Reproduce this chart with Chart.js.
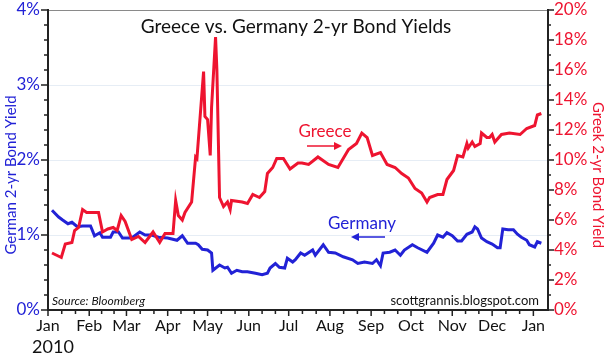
<!DOCTYPE html>
<html>
<head>
<meta charset="utf-8">
<script src="https://cdn.jsdelivr.net/npm/chart.js@4"></script>
<style>
  html, body { margin: 0; padding: 0; background: #fff; }
  #wrap { width: 608px; height: 362px; }
</style>
</head>
<body>
<div id="wrap"><canvas id="bondChart" width="608" height="362"></canvas></div>
<script>
// days since 1 Jan 2010
var monthStarts = [0, 31, 59, 90, 120, 151, 181, 212, 243, 273, 304, 334, 365];
var monthLabels = ['Jan', 'Feb', 'Mar', 'Apr', 'May', 'Jun', 'Jul', 'Aug', 'Sep', 'Oct', 'Nov', 'Dec', 'Jan'];
var leftTicks = [0, 1, 2, 3, 4];
var rightTicks = [0, 2, 4, 6, 8, 10, 12, 14, 16, 18, 20];

var greeceDays = [3, 10, 13, 18, 20, 23, 26, 29, 35, 38, 41, 45, 49, 52, 55, 58, 63, 68, 73, 79, 84, 88, 94, 96, 98, 101, 103, 108, 111, 112, 117, 118, 120, 122, 123, 126, 127, 129, 132, 135, 137, 138, 146, 150, 154, 159, 163, 165, 169, 172, 177, 182, 188, 191, 196, 203, 211, 218, 226, 232, 236, 240, 244, 250, 255, 261, 266, 271, 276, 281, 285, 287, 293, 297, 300, 305, 308, 312, 315, 316, 319, 321, 325, 326, 330, 332, 334, 336, 341, 347, 355, 360, 366, 368, 371];
var greeceYield = [3.8, 3.5, 4.4, 4.5, 5.3, 5.5, 6.7, 6.5, 6.5, 6.5, 5.2, 5.4, 5.5, 5.3, 6.3, 5.9, 4.7, 4.9, 4.5, 5.2, 4.5, 5.1, 5.1, 7.3, 6.3, 6.0, 6.5, 7.2, 10.2, 10.1, 15.9, 12.9, 12.7, 10.3, 13.5, 18.2, 16.0, 7.5, 6.9, 7.2, 6.7, 7.3, 7.2, 7.1, 7.7, 7.5, 7.9, 9.1, 9.5, 10.1, 10.1, 9.4, 9.8, 9.8, 9.7, 10.2, 9.7, 9.5, 10.7, 11.1, 11.8, 11.5, 10.3, 10.5, 9.7, 9.5, 9.1, 8.8, 8.1, 7.8, 7.2, 7.5, 7.7, 7.7, 8.7, 9.3, 10.3, 10.2, 11.1, 10.8, 11.2, 10.9, 11.1, 11.8, 11.5, 11.5, 11.7, 11.2, 11.7, 11.8, 11.7, 12.1, 12.3, 13.0, 13.1];

var germanyDays = [3, 8, 11, 15, 18, 22, 26, 32, 35, 39, 41, 47, 49, 53, 56, 63, 69, 73, 78, 83, 90, 97, 101, 105, 111, 113, 116, 120, 123, 124, 129, 133, 135, 138, 142, 146, 150, 156, 161, 165, 167, 171, 174, 178, 180, 184, 186, 190, 193, 199, 201, 207, 211, 216, 222, 229, 233, 238, 244, 247, 250, 252, 257, 261, 265, 268, 274, 278, 285, 290, 293, 297, 300, 304, 308, 311, 315, 319, 321, 323, 326, 330, 334, 338, 340, 342, 346, 350, 353, 356, 360, 362, 366, 368, 371];
var germanyYield = [1.33, 1.24, 1.2, 1.15, 1.17, 1.11, 1.12, 1.12, 0.99, 1.03, 0.97, 0.97, 1.04, 1.04, 0.96, 0.96, 1.04, 1.0, 1.0, 0.97, 0.96, 0.93, 0.99, 0.89, 0.89, 0.87, 0.81, 0.8, 0.76, 0.53, 0.6, 0.56, 0.57, 0.49, 0.53, 0.51, 0.51, 0.49, 0.47, 0.49, 0.56, 0.62, 0.57, 0.56, 0.69, 0.64, 0.67, 0.76, 0.73, 0.8, 0.73, 0.87, 0.77, 0.76, 0.71, 0.67, 0.62, 0.64, 0.62, 0.67, 0.59, 0.76, 0.77, 0.8, 0.73, 0.8, 0.87, 0.83, 0.77, 0.89, 1.0, 0.97, 1.03, 0.99, 0.92, 0.92, 1.01, 1.04, 1.11, 1.08, 0.96, 0.91, 0.88, 0.83, 0.83, 1.08, 1.07, 1.07, 1.01, 0.97, 0.93, 0.87, 0.84, 0.91, 0.89];

var RED = '#ee1430';
var BLUE = '#2222d6';
var FONT = 'Lato';

function toPoints(days, vals) {
    return days.map(function (d, i) { return { x: d, y: vals[i] }; });
}

// axis ticks, labels in the plot, axis titles
var decorations = {
    id: 'decorations',
    afterDraw: function (chart) {
        var c = chart.ctx;
        var a = chart.chartArea;
        var xs = chart.scales.x, yl = chart.scales.yL, yr = chart.scales.yR;
        c.save();
        c.strokeStyle = '#222';
        c.lineWidth = 1.5;
        c.beginPath();
        // x ticks: month + thirds
        monthStarts.forEach(function (d, i) {
            var px = xs.getPixelForValue(d);
            c.moveTo(px, a.bottom); c.lineTo(px, a.bottom + 6);
            if (i < monthStarts.length - 1) {
                var len = monthStarts[i + 1] - d;
                [1, 2].forEach(function (k) {
                    var mx = xs.getPixelForValue(d + len * k / 3);
                    c.moveTo(mx, a.bottom); c.lineTo(mx, a.bottom + 4);
                });
            }
        });
        // left ticks every 0.2%
        for (var v = 0; v <= 4.001; v += 0.2) {
            var py = yl.getPixelForValue(v);
            var major = Math.abs(v - Math.round(v)) < 0.01;
            c.moveTo(a.left, py); c.lineTo(a.left - (major ? 7 : 4), py);
        }
        // right ticks every 1%
        for (var w = 0; w <= 20; w += 1) {
            var ry = yr.getPixelForValue(w);
            c.moveTo(a.right, ry); c.lineTo(a.right + (w % 2 === 0 ? 6 : 3), ry);
        }
        c.stroke();

        // title
        c.fillStyle = '#111';
        c.font = '19px ' + FONT;
        c.textAlign = 'center';
        c.textBaseline = 'middle';
        c.fillText('Greece vs. Germany 2-yr Bond Yields', 296, 27);

        // series labels with arrows
        c.font = '17px ' + FONT;
        c.fillStyle = RED;
        c.fillText('Greece', 325, 132);
        c.fillStyle = BLUE;
        c.fillText('Germany', 362, 224);

        function arrow(x1, x2, y, col) {
            var dir = x2 > x1 ? 1 : -1;
            c.strokeStyle = col; c.fillStyle = col; c.lineWidth = 1.5;
            c.beginPath(); c.moveTo(x1, y); c.lineTo(x2 - dir * 6, y); c.stroke();
            c.beginPath(); c.moveTo(x2, y); c.lineTo(x2 - dir * 8, y - 4); c.lineTo(x2 - dir * 8, y + 4); c.closePath(); c.fill();
        }
        arrow(307, 342, 146, RED);
        arrow(385, 351, 237, BLUE);

        // source / credit
        c.fillStyle = '#111';
        c.textAlign = 'left';
        c.font = 'italic 12px ' + FONT;
        c.fillText('Source: Bloomberg', 52, 301);
        c.textAlign = 'right';
        c.font = '13px ' + FONT;
        c.fillText('scottgrannis.blogspot.com', 539, 301);

        // year under first Jan
        c.textAlign = 'center';
        c.font = '18px ' + FONT;
        c.fillText('2010', 53, 347);

        // axis titles
        c.font = '15px ' + FONT;
        c.save();
        c.translate(11, 175);
        c.rotate(-Math.PI / 2);
        c.fillStyle = BLUE;
        c.fillText('German 2-yr Bond Yield', 0, 0);
        c.restore();
        c.save();
        c.translate(598, 175);
        c.rotate(Math.PI / 2);
        c.fillStyle = RED;
        c.fillText('Greek 2-yr Bond Yield', 0, 0);
        c.restore();
        c.restore();
    }
};

function noVertPadding(s) {
    s.paddingTop = 0;
    s.paddingBottom = 0;
}

new Chart(document.getElementById('bondChart'), {
    type: 'line',
    data: {
        datasets: [{
            label: 'Greece',
            data: toPoints(greeceDays, greeceYield),
            yAxisID: 'yR',
            borderColor: RED,
            borderWidth: 3,
            pointRadius: 0,
            tension: 0
        }, {
            label: 'Germany',
            data: toPoints(germanyDays, germanyYield),
            yAxisID: 'yL',
            borderColor: BLUE,
            borderWidth: 3,
            pointRadius: 0,
            tension: 0
        }]
    },
    options: {
        responsive: false,
        animation: false,
        layout: { padding: { top: 10, left: 0, right: 0, bottom: 0 } },
        plugins: { legend: { display: false }, tooltip: { enabled: false } },
        scales: {
            x: {
                type: 'linear',
                min: 0,
                max: 376,
                afterBuildTicks: function (s) {
                    s.ticks = monthStarts.map(function (d) { return { value: d }; });
                },
                afterFit: function (s) { s.height = 52; },
                ticks: {
                    autoSkip: false,
                    maxRotation: 0,
                    padding: 8,
                    color: '#111',
                    font: { family: FONT, size: 16, lineHeight: 1 },
                    callback: function (v, i) { return monthLabels[i]; }
                },
                grid: { display: false, drawTicks: false },
                border: { display: true, color: '#222', width: 2 }
            },
            yL: {
                position: 'left',
                min: 0,
                max: 4,
                afterBuildTicks: function (s) {
                    s.ticks = leftTicks.map(function (v) { return { value: v }; });
                },
                afterFit: function (s) { s.width = 48; noVertPadding(s); },
                ticks: {
                    padding: 8,
                    color: BLUE,
                    font: { family: FONT, size: 17, lineHeight: 1 },
                    callback: function (v) { return v + '%'; }
                },
                grid: {
                    drawTicks: false,
                    lineWidth: 1,
                    color: function (ctx) {
                        var v = ctx.tick.value;
                        if (v === 0) return 'rgba(0,0,0,0)';
                        if (v === 4) return '#8a8a8a';
                        return '#e6edf5';
                    }
                },
                border: { display: true, color: '#222', width: 2 }
            },
            yR: {
                position: 'right',
                min: 0,
                max: 20,
                afterBuildTicks: function (s) {
                    s.ticks = rightTicks.map(function (v) { return { value: v }; });
                },
                afterFit: function (s) { s.width = 60; noVertPadding(s); },
                ticks: {
                    padding: 6,
                    color: RED,
                    font: { family: FONT, size: 17, lineHeight: 1 },
                    callback: function (v) { return v + '%'; }
                },
                grid: { display: false, drawTicks: false },
                border: { display: true, color: '#222', width: 2 }
            }
        }
    },
    plugins: [decorations]
});
</script>
</body>
</html>
